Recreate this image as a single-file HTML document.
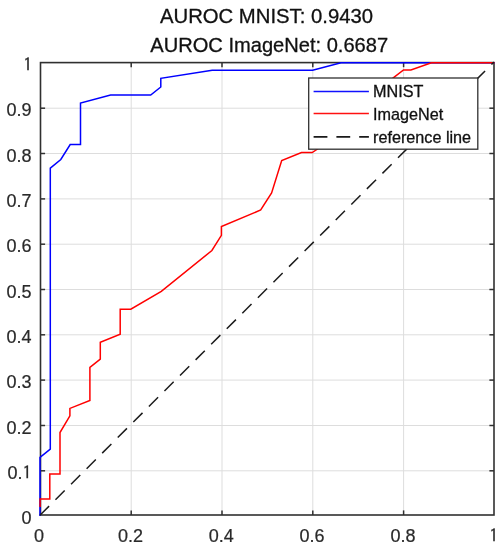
<!DOCTYPE html>
<html><head><meta charset="utf-8"><style>
html,body{margin:0;padding:0;background:#fff;font-family:"Liberation Sans", Arial, sans-serif;}
svg{display:block;}
text{font-family:"Liberation Sans", Arial, sans-serif;}
</style></head><body>
<svg width="503" height="550" viewBox="0 0 503 550" font-family='"Liberation Sans", Arial, sans-serif'>
<rect width="503" height="550" fill="#fff"/>
<g stroke="#dddddd" stroke-width="1"><line x1="131.2" y1="62.6" x2="131.2" y2="515.0"/><line x1="222.0" y1="62.6" x2="222.0" y2="515.0"/><line x1="312.8" y1="62.6" x2="312.8" y2="515.0"/><line x1="403.6" y1="62.6" x2="403.6" y2="515.0"/><line x1="40.5" y1="470.8" x2="494.0" y2="470.8"/><line x1="40.5" y1="425.5" x2="494.0" y2="425.5"/><line x1="40.5" y1="380.1" x2="494.0" y2="380.1"/><line x1="40.5" y1="334.8" x2="494.0" y2="334.8"/><line x1="40.5" y1="289.5" x2="494.0" y2="289.5"/><line x1="40.5" y1="244.2" x2="494.0" y2="244.2"/><line x1="40.5" y1="198.9" x2="494.0" y2="198.9"/><line x1="40.5" y1="153.5" x2="494.0" y2="153.5"/><line x1="40.5" y1="108.2" x2="494.0" y2="108.2"/></g>
<g stroke="#303030" stroke-width="1.5"><line x1="131.2" y1="515.0" x2="131.2" y2="510.4"/><line x1="131.2" y1="62.6" x2="131.2" y2="67.2"/><line x1="222.0" y1="515.0" x2="222.0" y2="510.4"/><line x1="222.0" y1="62.6" x2="222.0" y2="67.2"/><line x1="312.8" y1="515.0" x2="312.8" y2="510.4"/><line x1="312.8" y1="62.6" x2="312.8" y2="67.2"/><line x1="403.6" y1="515.0" x2="403.6" y2="510.4"/><line x1="403.6" y1="62.6" x2="403.6" y2="67.2"/><line x1="40.5" y1="470.8" x2="45.1" y2="470.8"/><line x1="494.0" y1="470.8" x2="489.4" y2="470.8"/><line x1="40.5" y1="425.5" x2="45.1" y2="425.5"/><line x1="494.0" y1="425.5" x2="489.4" y2="425.5"/><line x1="40.5" y1="380.1" x2="45.1" y2="380.1"/><line x1="494.0" y1="380.1" x2="489.4" y2="380.1"/><line x1="40.5" y1="334.8" x2="45.1" y2="334.8"/><line x1="494.0" y1="334.8" x2="489.4" y2="334.8"/><line x1="40.5" y1="289.5" x2="45.1" y2="289.5"/><line x1="494.0" y1="289.5" x2="489.4" y2="289.5"/><line x1="40.5" y1="244.2" x2="45.1" y2="244.2"/><line x1="494.0" y1="244.2" x2="489.4" y2="244.2"/><line x1="40.5" y1="198.9" x2="45.1" y2="198.9"/><line x1="494.0" y1="198.9" x2="489.4" y2="198.9"/><line x1="40.5" y1="153.5" x2="45.1" y2="153.5"/><line x1="494.0" y1="153.5" x2="489.4" y2="153.5"/><line x1="40.5" y1="108.2" x2="45.1" y2="108.2"/><line x1="494.0" y1="108.2" x2="489.4" y2="108.2"/></g>
<rect x="40.5" y="62.6" width="453.5" height="452.4" fill="none" stroke="#303030" stroke-width="1.6"/>
<polyline points="40.0,516.0 40.0,457.4 50.3,449.1 50.3,168.2 60.8,159.5 70.2,144.5 80.5,144.5 80.5,103.0 110.6,95.1 150.7,95.1 160.8,87.0 160.8,78.3 212.2,70.2 312.6,70.2 341.0,62.7 494.4,62.7" fill="none" stroke="#0000ff" stroke-width="1.5" stroke-linejoin="miter"/>
<polyline points="40.1,507.0 40.1,498.9 49.8,498.9 49.8,474.1 60.0,474.1 60.0,432.5 69.9,415.8 69.9,408.4 89.9,400.5 89.9,367.4 100.3,359.1 100.3,342.3 120.2,334.2 120.2,309.2 130.8,309.2 161.3,291.4 211.9,250.5 221.4,235.3 221.4,226.6 260.7,210.0 271.6,193.0 281.7,160.6 301.5,152.6 312.2,152.6 322.0,146.0 388.0,82.0 394.2,77.2 403.5,69.9 410.9,69.9 431.4,62.7 494.4,62.7" fill="none" stroke="#ff0000" stroke-width="1.5" stroke-linejoin="miter"/>
<line x1="39.9" y1="515.3" x2="493.9" y2="62.1" stroke="#1c1c1c" stroke-width="1.5" stroke-dasharray="13 9"/>
<g fill="#2a2a2a" font-size="18" stroke="#2a2a2a" stroke-width="0.22"><text x="31.5" y="524.2" text-anchor="end">0</text><text x="31.5" y="478.9" text-anchor="end">0.<tspan style="font-family:IPAGothic,'Liberation Sans',sans-serif">1</tspan></text><text x="31.5" y="433.6" text-anchor="end">0.2</text><text x="31.5" y="388.2" text-anchor="end">0.3</text><text x="31.5" y="342.9" text-anchor="end">0.4</text><text x="31.5" y="297.6" text-anchor="end">0.5</text><text x="31.5" y="252.3" text-anchor="end">0.6</text><text x="31.5" y="207.0" text-anchor="end">0.7</text><text x="31.5" y="161.6" text-anchor="end">0.8</text><text x="31.5" y="116.3" text-anchor="end">0.9</text><text x="32.3" y="71.0" text-anchor="end" style="font-family:IPAGothic,'Liberation Sans',sans-serif">1</text><text x="38.9" y="541.5" text-anchor="middle">0</text><text x="130.5" y="541.5" text-anchor="middle">0.2</text><text x="221.3" y="541.5" text-anchor="middle">0.4</text><text x="312.1" y="541.5" text-anchor="middle">0.6</text><text x="402.9" y="541.5" text-anchor="middle">0.8</text><text x="493.7" y="541.5" text-anchor="middle" style="font-family:IPAGothic,'Liberation Sans',sans-serif">1</text></g>
<g fill="#111" font-size="20.3" text-anchor="middle" stroke="#111" stroke-width="0.3">
<text x="266.5" y="22.9">AUROC MNIST: 0.9430</text>
<text x="269.2" y="51.9" font-size="20.1">AUROC ImageNet: 0.6687</text>
</g>
<rect x="308.7" y="78" width="169.1" height="71.2" fill="#fff" stroke="#303030" stroke-width="1.3"/>
<line x1="313.6" y1="91.5" x2="368.9" y2="91.5" stroke="#1010ff" stroke-width="1.5"/>
<line x1="313.6" y1="113.6" x2="368.9" y2="113.6" stroke="#ff1010" stroke-width="1.5"/>
<line x1="313.6" y1="136.9" x2="368.9" y2="136.9" stroke="#1a1a1a" stroke-width="1.6" stroke-dasharray="13.8 9"/>
<g fill="#111" font-size="16.2" stroke="#111" stroke-width="0.3">
<text x="373" y="97.4">MNIST</text>
<text x="373" y="119.6">ImageNet</text>
<text x="373" y="142.6">reference line</text>
</g>
</svg>
</body></html>
